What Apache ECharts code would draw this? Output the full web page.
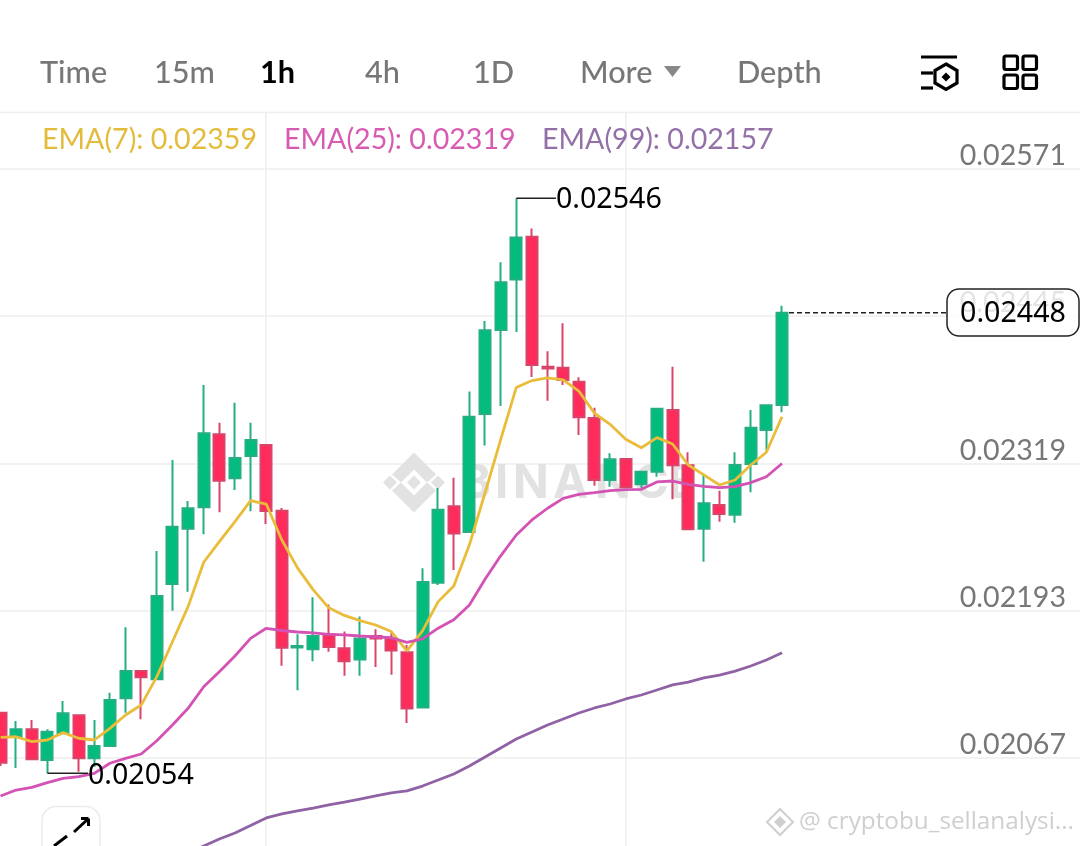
<!DOCTYPE html>
<html>
<head>
<meta charset="utf-8">
<style>html,body{margin:0;padding:0;background:#fff}#c{width:1080px;height:846px}</style>
<script src="https://cdn.jsdelivr.net/npm/echarts@6/dist/echarts.min.js"></script>
</head>
<body>
<div id="c"></div>
<script>
const tabs = ['Time','15m','1h','4h','1D','More','Depth'];
const emaLabels = ['EMA(7): 0.02359','EMA(25): 0.02319','EMA(99): 0.02157'];
const priceTicks = [0.02067,0.02193,0.02319,0.02445,0.02571];
const lastPrice = 0.02448, highPrice = 0.02546, lowPrice = 0.02054;
const highIndex = 33, lowIndex = 3, lastIndex = 50;

const opens = [0.021058,0.020852,0.020915,0.020653,0.020881,0.021035,0.020667,0.020773,0.021181,0.021414,0.021343,0.022159,0.022632,0.022815,0.023440,0.023063,0.023254,0.023348,0.022786,0.021616,0.021601,0.021728,0.021610,0.021513,0.021714,0.021693,0.021574,0.021103,0.022170,0.022825,0.022604,0.023614,0.024333,0.024764,0.025130,0.024018,0.024010,0.023890,0.023579,0.023049,0.023229,0.023012,0.023120,0.023648,0.023175,0.022632,0.022835,0.022752,0.023186,0.023477,0.023691];
const closes = [0.020630,0.020915,0.020659,0.020895,0.021052,0.020667,0.020773,0.021166,0.021414,0.021360,0.022056,0.022649,0.022807,0.023448,0.023043,0.023237,0.023391,0.022784,0.021614,0.021628,0.021714,0.021619,0.021498,0.021693,0.021693,0.021589,0.021094,0.022176,0.022795,0.022592,0.023590,0.024331,0.024740,0.025124,0.024033,0.024003,0.023905,0.023585,0.023049,0.023226,0.022986,0.023120,0.023659,0.023175,0.022627,0.022849,0.022758,0.023177,0.023496,0.023688,0.024480];
const lows = [0.020602,0.020584,0.020653,0.020540,0.020881,0.020553,0.020595,0.020773,0.021058,0.021001,0.021343,0.021930,0.022093,0.022584,0.022772,0.022963,0.022781,0.022672,0.021460,0.021250,0.021498,0.021580,0.021374,0.021374,0.021448,0.021383,0.020970,0.021103,0.022150,0.022279,0.022604,0.023343,0.023682,0.024316,0.023930,0.023727,0.023862,0.023434,0.023000,0.022992,0.022986,0.022978,0.023077,0.022884,0.022627,0.022350,0.022692,0.022683,0.022944,0.023291,0.023628];
const highs = [0.021058,0.020987,0.020995,0.020915,0.021158,0.021035,0.020995,0.021229,0.021788,0.021414,0.022441,0.023220,0.022869,0.023862,0.023539,0.023710,0.023539,0.023348,0.022809,0.021728,0.022046,0.021984,0.021752,0.021881,0.021772,0.021742,0.021637,0.022294,0.022980,0.023069,0.023806,0.024410,0.024912,0.025460,0.025200,0.024151,0.024390,0.023928,0.023667,0.023277,0.023229,0.023120,0.023659,0.024018,0.023286,0.023100,0.022957,0.023286,0.023648,0.023688,0.024540];

const ema7 = [0.020847,0.020852,0.020810,0.020824,0.020887,0.020839,0.020824,0.020924,0.021038,0.021123,0.021366,0.021665,0.021965,0.022345,0.022521,0.022692,0.022872,0.022843,0.022535,0.022297,0.022111,0.021955,0.021890,0.021846,0.021808,0.021752,0.021586,0.021757,0.022008,0.022142,0.022494,0.022938,0.023394,0.023841,0.023900,0.023922,0.023905,0.023810,0.023620,0.023525,0.023397,0.023325,0.023411,0.023357,0.023177,0.023092,0.023006,0.023049,0.023177,0.023286,0.023590];
const ema25 = [0.020345,0.020396,0.020419,0.020459,0.020496,0.020510,0.020539,0.020625,0.020667,0.020704,0.020818,0.020952,0.021095,0.021280,0.021408,0.021543,0.021694,0.021780,0.021761,0.021748,0.021740,0.021728,0.021723,0.021714,0.021707,0.021699,0.021660,0.021689,0.021781,0.021852,0.021979,0.022199,0.022400,0.022578,0.022707,0.022807,0.022892,0.022926,0.022940,0.022957,0.022966,0.022969,0.023032,0.023040,0.023012,0.022995,0.022983,0.022992,0.023026,0.023077,0.023190];
const ema99 = [null,null,null,null,null,null,null,null,null,null,null,null,0.019857,0.019917,0.019977,0.020028,0.020092,0.020157,0.020191,0.020217,0.020242,0.020268,0.020293,0.020319,0.020345,0.020371,0.020388,0.020430,0.020482,0.020533,0.020602,0.020679,0.020756,0.020833,0.020892,0.020952,0.021004,0.021055,0.021098,0.021132,0.021175,0.021209,0.021252,0.021295,0.021320,0.021355,0.021380,0.021414,0.021457,0.021509,0.021570];

const categories = opens.map((_, i) => String(i)).concat(new Array(19).fill(''));
const gridLineSlots = [17, 40];

const candleData = opens.map((o, i) => [o, closes[i], lows[i], highs[i]]);
const GREEN = '#02BC7D', RED = '#FF2B5A';
const textFont = 'Lato, "Noto Sans", sans-serif';
const markFont = '"Noto Sans", sans-serif';

const chart = echarts.init(document.getElementById('c'), null, {renderer:'canvas', width:1080, height:846});
const line = (name, data, color, w) => ({type:'line', name, data, showSymbol:false, symbol:'none', smooth:false, z:5,
  connectNulls:false, lineStyle:{color, width:w}, itemStyle:{color}});

chart.setOption({
  animation:false,
  backgroundColor:'#fff',
  grid:{left:-7.3, top:113, width:1094.1, height:733, containLabel:false, outerBoundsMode:'none'},
  xAxis:{type:'category', data:categories, boundaryGap:true,
    axisLine:{show:false}, axisTick:{show:false, alignWithLabel:true}, axisLabel:{show:false},
    splitLine:{show:true, alignWithLabel:true, interval:(i)=>gridLineSlots.includes(i), lineStyle:{color:'#eeeeee', width:1.5}}},
  yAxis:{type:'value', position:'right', scale:true, min:0.019917, max:0.026189,
    axisLine:{show:false}, axisTick:{show:false, customValues:priceTicks},
    axisLabel:{inside:true, margin:20.8, customValues:priceTicks, color:'#777777', fontSize:28.6, fontFamily:textFont,
      verticalAlign:'bottom', lineHeight:26, formatter:(v)=>v.toFixed(5), showMinLabel:true, showMaxLabel:true},
    splitLine:{show:true, lineStyle:{color:'#eeeeee', width:1.5}}},
  series:[
    {type:'candlestick', data:candleData, barWidth:11.5, z:3,
      itemStyle:{color:GREEN, color0:RED, borderColor:'#25AD84', borderColor0:'#D9446A', borderWidth:2}},
    line('EMA7', ema7, '#E9BC3A', 2.8),
    line('EMA25', ema25, '#D452B4', 2.8),
    line('EMA99', ema99, '#8F62A5', 2.8)
  ]
});

const px = (i, v) => chart.convertToPixel({gridIndex:0}, [i, v]);
const hi = px(highIndex, highPrice), lo = px(lowIndex, lowPrice), la = px(lastIndex, lastPrice);
const tabX = [40,154,260,365,473,580,737];

const els = [];
const txt = (x,y,text,o={}) => els.push({type:'text', x, y, z:o.z||20, silent:true, style:Object.assign({text, fill:'#777', fontSize:30.7, fontFamily:textFont, fontWeight:500, verticalAlign:'middle'}, o.style||{})});
// header
els.push({type:'rect', z:15, shape:{x:0,y:0,width:1080,height:113}, style:{fill:'#fff'}});
els.push({type:'line', z:16, shape:{x1:0,y1:112.5,x2:1080,y2:112.5}, style:{stroke:'#eeeeee', lineWidth:1.5}});
tabs.forEach((t,i)=>txt(tabX[i],73,t,{style: t==='1h'?{fill:'#000',fontWeight:700}:{}}));
els.push({type:'polygon', z:20, shape:{points:[[664,66],[681,66],[672.5,77]]}, style:{fill:'#888'}});
// icons
const blk = {stroke:'#000', lineWidth:3.2, fill:null};
[[921,57,957,57],[921,73,933,73],[921,88,933,88]].forEach(l=>els.push({type:'line', z:20, shape:{x1:l[0],y1:l[1],x2:l[2],y2:l[3]}, style:blk}));
els.push({type:'polygon', z:20, shape:{points:[[946,64],[957,70.5],[957,83],[946,89.5],[935,83],[935,70.5]]}, style:blk});
els.push({type:'polygon', z:20, shape:{points:[[946,72.5],[950.5,77],[946,81.5],[941.5,77]]}, style:{fill:'#000'}});
[[1004,56],[1023,56],[1004,75],[1023,75]].forEach(p=>els.push({type:'rect', z:20, shape:{x:p[0],y:p[1],width:13.5,height:13.5,r:2}, style:blk}));
// EMA legend
const emaX=[42,284,542], emaCol=['#E3BC3C','#D85BB2','#9370A8'];
emaLabels.forEach((t,i)=>els.push({type:'text', x:emaX[i], y:140, z:20, silent:true, style:{text:t, fill:emaCol[i], fontSize:28.6, fontFamily:textFont, verticalAlign:'middle'}}));
// watermark
const wm='#e2e2e2';
const cx=414, cy=482.5;
[[[cx,cy-30],[cx+22,cy-8],[cx+13,cy],[cx,cy-13],[cx-13,cy],[cx-22,cy-8]],
 [[cx,cy+30],[cx+22,cy+8],[cx+13,cy],[cx,cy+13],[cx-13,cy],[cx-22,cy+8]],
 [[cx,cy-7],[cx+7,cy],[cx,cy+7],[cx-7,cy]],
 [[cx-24,cy-7],[cx-17,cy],[cx-24,cy+7],[cx-31,cy]],
 [[cx+24,cy-7],[cx+31,cy],[cx+24,cy+7],[cx+17,cy]]
].forEach(p=>els.push({type:'polygon', z:0, zlevel:0, shape:{points:p}, style:{fill:wm}}));
const wmLetters = 'BINANCE'.split(''), wmX=[460,495,513,553,595,634,668];
wmLetters.forEach((ch,i)=>els.push({type:'text', x:wmX[i], y:484, z:0, style:{text:ch, fill:wm, fontSize:47, fontWeight:700, fontFamily:'Inter, sans-serif', verticalAlign:'middle'}}));
// high/low leaders
els.push({type:'line', z:20, shape:{x1:hi[0],y1:hi[1],x2:556,y2:hi[1]}, style:{stroke:'#222',lineWidth:1.5}});
els.push({type:'text', x:556, y:hi[1]+2, z:20, style:{text:highPrice.toFixed(5), fill:'#000', fontSize:28.6, fontFamily:markFont, verticalAlign:'middle'}});
els.push({type:'line', z:20, shape:{x1:lo[0],y1:lo[1],x2:88,y2:lo[1]}, style:{stroke:'#222',lineWidth:1.5}});
els.push({type:'text', x:88, y:lo[1]+3, z:20, style:{text:lowPrice.toFixed(5), fill:'#000', fontSize:28.6, fontFamily:markFont, verticalAlign:'middle'}});
// last price
els.push({type:'line', z:20, shape:{x1:la[0]+7,y1:la[1],x2:946,y2:la[1]}, style:{stroke:'#222',lineWidth:1.3,lineDash:[5,3]}});
els.push({type:'rect', z:20, shape:{x:947,y:289,width:132,height:47,r:12}, style:{fill:'rgba(255,255,255,0.8)',stroke:'#222',lineWidth:1.5}});
els.push({type:'text', x:1013, y:la[1]+1, z:21, style:{text:lastPrice.toFixed(5), fill:'#000', fontSize:28.6, fontFamily:markFont, align:'center', verticalAlign:'middle'}});
// zoom button
els.push({type:'rect', z:20, shape:{x:42,y:806.5,width:58,height:70,r:14}, style:{fill:'#fff',stroke:'#ececec',lineWidth:1.5}});
[[74,832,88,819],[81,818.5,88.5,818.5],[88.5,818.5,88.5,826],[54,846,67,836]].forEach(l=>els.push({type:'line', z:21, shape:{x1:l[0],y1:l[1],x2:l[2],y2:l[3]}, style:{stroke:'#000',lineWidth:3}}));
// corner watermark
const cw='#cfcfcf';
els.push({type:'polygon', z:20, shape:{points:[[780,809],[793,822],[780,835],[767,822]]}, style:{fill:'none',stroke:cw,lineWidth:2}});
els.push({type:'polygon', z:20, shape:{points:[[780,816],[786,822],[780,828],[774,822]]}, style:{fill:cw}});
els.push({type:'text', x:799, y:822, z:20, style:{text:'@ cryptobu_sellanalysi...', fill:cw, fontSize:24.3, fontFamily:'"Open Sans", sans-serif', verticalAlign:'middle'}});
chart.setOption({graphic:{elements:els}});
</script>
</body>
</html>
